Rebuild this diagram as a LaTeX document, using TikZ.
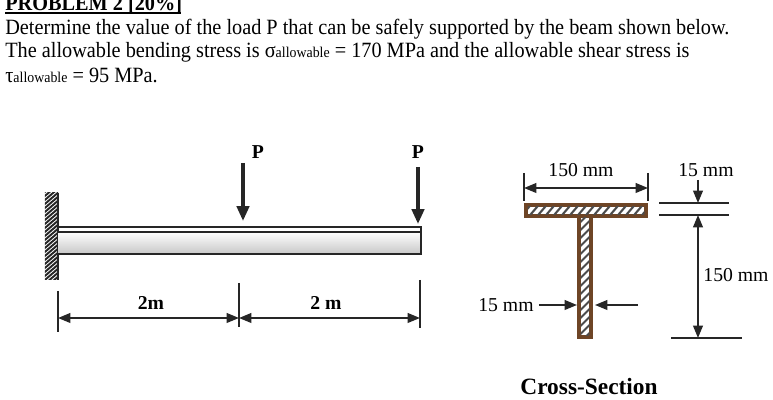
\documentclass[tikz,border=0pt]{standalone}
\usepackage{fontspec}
\setmainfont{Liberation Serif}
\newfontfamily\bodyfont[FakeStretch=0.93]{Liberation Serif}
\usetikzlibrary{arrows.meta}
\definecolor{sectionbrown}{HTML}{6E4526}
\tikzset{
  dimline/.style={draw=black!85,line width=1pt,{Triangle[length=7pt,width=5.5pt]}-{Triangle[length=7pt,width=5.5pt]}},
  onearrow/.style={draw=black!85,line width=1pt,-{Triangle[length=7pt,width=5.5pt]}},
  loadarrow/.style={draw=black!85,line width=2pt,-{Triangle[length=8.5pt,width=7pt]}},
  tickline/.style={draw=black!85,line width=0.8pt},
  bodytext/.style={anchor=base west,inner sep=0pt,font=\fontsize{12.4}{14}\bodyfont},
  dimtext/.style={inner sep=0pt,font=\fontsize{11.2}{13}\selectfont},
  boldtext/.style={inner sep=0pt,font=\fontsize{11.2}{13}\selectfont\bfseries},
  section/.style={draw=sectionbrown,line width=2pt}
}
\begin{document}
\begin{tikzpicture}
\useasboundingbox (0,0) rectangle (15.46,8);
% problem text
\node[bodytext,font=\fontsize{12.4}{14}\bodyfont\bfseries] (title) at (0.10,7.78) {PROBLEM 2 [20\%]};
\draw[line width=0.8pt] (title.base west)++(0,-0.04) -- ++(3.52,0);
\node[bodytext] (lineA) at (0.10,7.30) {Determine the value of the load P that can be safely supported by the beam shown below.};
\node[bodytext] (lineB) at (0.10,6.84) {The allowable bending stress is σ{\fontsize{8.5}{10}\selectfont allowable} = 170 MPa and the allowable shear stress is};
\node[bodytext] (lineC) at (0.10,6.34) {τ{\fontsize{8.5}{10}\selectfont allowable} = 95 MPa.};
% wall
\begin{scope}
\clip (0.90,2.40) rectangle (1.16,4.14);
\foreach \y in {2.2,2.28,...,4.2}
  \draw[line width=1.1pt,black!85] (0.85,\y) -- (1.2,\y+0.3);
\end{scope}
\draw[line width=1.2pt,black!85] (1.16,2.40) -- (1.16,4.14);
% beam
\shade[top color=white,bottom color=black!22] (1.16,2.92) rectangle (8.42,3.36);
\draw[line width=1pt,black!85] (1.16,3.46) -- (8.42,3.46) -- (8.42,2.92) -- (1.16,2.92);
\draw[line width=1pt,black!85] (1.16,3.36) -- (8.42,3.36);
% loads
\node[boldtext] (loadA) at (5.16,4.96) {P};
\node[boldtext] (loadB) at (8.36,4.96) {P};
\coordinate (loadAtop) at (4.86,4.74);
\coordinate (loadAend) at (4.86,3.58);
\coordinate (loadBtop) at (8.36,4.66);
\coordinate (loadBend) at (8.36,3.52);
\draw[loadarrow] (loadAtop) -- (loadAend);
\draw[loadarrow] (loadBtop) -- (loadBend);
% span dimensions
\coordinate (spanA) at (1.16,1.64);
\coordinate (spanB) at (4.78,1.64);
\coordinate (spanC) at (8.40,1.64);
\draw[tickline] (1.16,2.18) -- (1.16,1.36);
\draw[tickline] (4.78,2.34) -- (4.78,1.46);
\draw[tickline] (8.40,2.40) -- (8.40,1.44);
\draw[dimline] (spanA) -- (spanB);
\draw[dimline] (spanB) -- (spanC);
\node[boldtext] (lenA) at (3.02,1.94) {2m};
\node[boldtext] (lenB) at (6.52,1.94) {2 m};
% cross section
\draw[section] (10.52,3.68) rectangle (12.92,3.90);
\draw[section] (11.58,1.26) rectangle (11.82,3.68);
\begin{scope}
\clip (10.55,3.71) rectangle (12.89,3.87);
\foreach \x in {10.4,10.56,...,13}
  \draw[line width=1.2pt,black!70] (\x,3.65) -- ++(0.24,0.28);
\end{scope}
\begin{scope}
\clip (11.61,1.29) rectangle (11.79,3.65);
\foreach \y in {1.1,1.26,...,3.7}
  \draw[line width=1.2pt,black!70] (11.55,\y) -- ++(0.3,0.3);
\end{scope}
% section dimensions
\coordinate (flangeL) at (10.48,4.24);
\coordinate (flangeR) at (12.96,4.24);
\draw[tickline] (10.48,4.54) -- (10.48,3.98);
\draw[tickline] (12.96,4.54) -- (12.96,3.98);
\draw[dimline] (flangeL) -- (flangeR);
\node[dimtext] (flangeW) at (11.62,4.60) {150 mm};
\node[dimtext] (flangeT) at (14.12,4.60) {15 mm};
\node[dimtext] (webH) at (14.72,2.50) {150 mm};
\node[dimtext] (webT) at (10.12,1.90) {15 mm};
\coordinate (lineTop) at (13.96,3.94);
\coordinate (lineMid) at (13.96,3.70);
\coordinate (lineBot) at (13.96,1.24);
\draw[tickline] (13.18,3.94) -- (14.58,3.94);
\draw[tickline] (13.18,3.70) -- (14.58,3.70);
\draw[tickline] (13.42,1.24) -- (14.84,1.24);
\draw[onearrow] (13.96,4.40) -- (lineTop);
\draw[dimline] (lineMid) -- (lineBot);
\coordinate (webL) at (11.54,1.90);
\coordinate (webR) at (11.90,1.90);
\draw[onearrow] (webT.east)++(0.1,0) -- (webL);
\draw[onearrow] (12.76,1.90) -- (webR);
\node[boldtext,font=\fontsize{13.3}{15}\selectfont\bfseries] (sectionname) at (11.78,0.26) {Cross-Section};
\end{tikzpicture}
\end{document}
